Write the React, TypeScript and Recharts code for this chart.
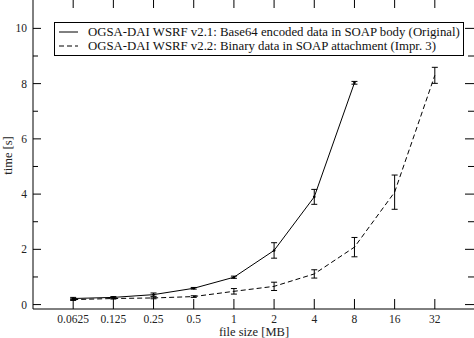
import { LineChart, Line, XAxis, YAxis, ErrorBar } from "recharts"

const sizes = [0.0625, 0.125, 0.25, 0.5, 1, 2, 4, 8, 16, 32]
const v21 = [0.22, 0.26, 0.36, 0.59, 0.99, 1.96, 3.9, 8.03, null, null]
const v21Err = [0.04, 0.03, 0.06, 0.03, 0.04, 0.28, 0.27, 0.05, null, null]
const v22 = [0.18, 0.22, 0.24, 0.29, 0.48, 0.66, 1.11, 2.08, 4.07, 8.3]
const v22Err = [0.03, 0.02, 0.03, 0.03, 0.1, 0.15, 0.15, 0.35, 0.62, 0.29]
const yTicks = [0, 1, 2, 3, 4, 5, 6, 7, 8, 9, 10]
const xTicks = sizes.map((s) => Math.log2(s))

const seriesNames = [
    "OGSA-DAI WSRF v2.1: Base64 encoded data in SOAP body (Original)",
    "OGSA-DAI WSRF v2.2: Binary data in SOAP attachment (Impr. 3)",
]

const data = sizes.map((s, i) => ({
    x: Math.log2(s),
    a: v21[i],
    aErr: v21Err[i],
    b: v22[i],
    bErr: v22Err[i],
}))

const font = '"Liberation Serif", "Times New Roman", serif'

const fmtSize = (v: number) => String(Math.pow(2, v))

function BottomTick({ x, y, payload }: any) {
    return (
        <g>
            <line x1={x} x2={x} y1={y} y2={y - 10} stroke="#000" />
            <text x={x} y={y + 14} textAnchor="middle" fontSize={11.5} fontFamily={font} fill="#222">
                {fmtSize(payload.value)}
            </text>
        </g>
    )
}

function TopTick({ x, y }: any) {
    return <line x1={x} x2={x} y1={y} y2={y + 10} stroke="#000" />
}

function LeftTick({ x, y, payload }: any) {
    const major = payload.value % 2 === 0
    return (
        <g>
            <line x1={x} x2={x + (major ? 8 : 5)} y1={y} y2={y} stroke="#000" />
            {major && (
                <text x={x - 6} y={y + 4} textAnchor="end" fontSize={11.5} fontFamily={font} fill="#222">
                    {payload.value}
                </text>
            )}
        </g>
    )
}

function RightTick({ x, y, payload }: any) {
    const major = payload.value % 2 === 0
    return <line x1={x} x2={x - (major ? 10 : 7)} y1={y} y2={y} stroke="#000" />
}

function LegendBox() {
    return (
        <div
            style={{
                position: "absolute",
                left: 54,
                top: 22,
                border: "1px solid #000",
                background: "#fff",
                fontFamily: font,
                fontSize: 12.8,
                color: "#111",
                padding: "2px 3px 2px 3px",
                lineHeight: "14px",
                whiteSpace: "nowrap",
            }}
        >
            {seriesNames.map((n, i) => (
                <div key={n} style={{ display: "flex", alignItems: "center" }}>
                    <svg width={26} height={14}>
                        <line x1={1} x2={20} y1={7} y2={7} stroke="#000" strokeDasharray={i === 1 ? "5 3" : undefined} />
                    </svg>
                    <span style={{ marginLeft: 4 }}>{n}</span>
                </div>
            ))}
        </div>
    )
}

export default function App() {
    return (
        <div style={{ position: "absolute", left: 0, top: 0, width: 474, height: 338, overflow: "hidden" }}>
            <div style={{ position: "absolute", left: 0, top: -3 }}>
                <LineChart width={476} height={341} data={data} margin={{ top: 0, right: 0, bottom: 0, left: 0 }}>
                    <XAxis
                        dataKey="x"
                        type="number"
                        domain={[-5, 6]}
                        ticks={xTicks}
                        allowDataOverflow
                        height={29}
                        tickSize={0}
                        tickMargin={0}
                        tickLine={false}
                        tick={<BottomTick />}
                        axisLine={{ stroke: "#000" }}
                        label={{ value: "file size [MB]", position: "insideBottom", offset: 2, fontSize: 12.5, fontFamily: font, fill: "#222" }}
                    />
                    <XAxis
                        xAxisId="top"
                        orientation="top"
                        dataKey="x"
                        type="number"
                        domain={[-5, 6]}
                        ticks={xTicks}
                        allowDataOverflow
                        height={1}
                        tickSize={0}
                        tickMargin={0}
                        tickLine={false}
                        tick={<TopTick />}
                        axisLine={{ stroke: "#000" }}
                    />
                    <YAxis
                        type="number"
                        domain={[-0.16, 11.1]}
                        ticks={yTicks}
                        allowDataOverflow
                        width={33}
                        tickSize={0}
                        tickMargin={0}
                        tickLine={false}
                        tick={<LeftTick />}
                        axisLine={{ stroke: "#000" }}
                        label={{
                            content: ({ viewBox }: any) => {
                                const cx = viewBox.x + 8
                                const cy = viewBox.y + viewBox.height / 2 + 2
                                return (
                                    <text x={cx} y={cy} transform={`rotate(-90 ${cx} ${cy})`} textAnchor="middle" dominantBaseline="central" fontSize={12.5} fontFamily={font} fill="#222">
                                        time [s]
                                    </text>
                                )
                            },
                        }}
                    />
                    <YAxis
                        yAxisId="right"
                        orientation="right"
                        type="number"
                        domain={[-0.16, 11.1]}
                        ticks={yTicks}
                        allowDataOverflow
                        width={1}
                        tickSize={0}
                        tickMargin={0}
                        tickLine={false}
                        tick={<RightTick />}
                        axisLine={{ stroke: "#000" }}
                    />
                    <Line
                        xAxisId="top"
                        yAxisId="right"
                        dataKey="b"
                        stroke="none"
                        dot={false}
                        activeDot={false}
                        legendType="none"
                        isAnimationActive={false}
                    />
                    <Line
                        dataKey="a"
                        name={seriesNames[0]}
                        stroke="#000"
                        strokeWidth={1}
                        dot={{ r: 1.3, fill: "#000", stroke: "none" }}
                        isAnimationActive={false}
                    >
                        <ErrorBar dataKey="aErr" width={3} stroke="#000" strokeWidth={1} direction="y" />
                    </Line>
                    <Line
                        dataKey="b"
                        name={seriesNames[1]}
                        stroke="#000"
                        strokeWidth={1}
                        strokeDasharray="5 3"
                        dot={false}
                        isAnimationActive={false}
                    >
                        <ErrorBar dataKey="bErr" width={3} stroke="#000" strokeWidth={1} direction="y" />
                    </Line>
                </LineChart>
            </div>
            <LegendBox />
        </div>
    )
}
